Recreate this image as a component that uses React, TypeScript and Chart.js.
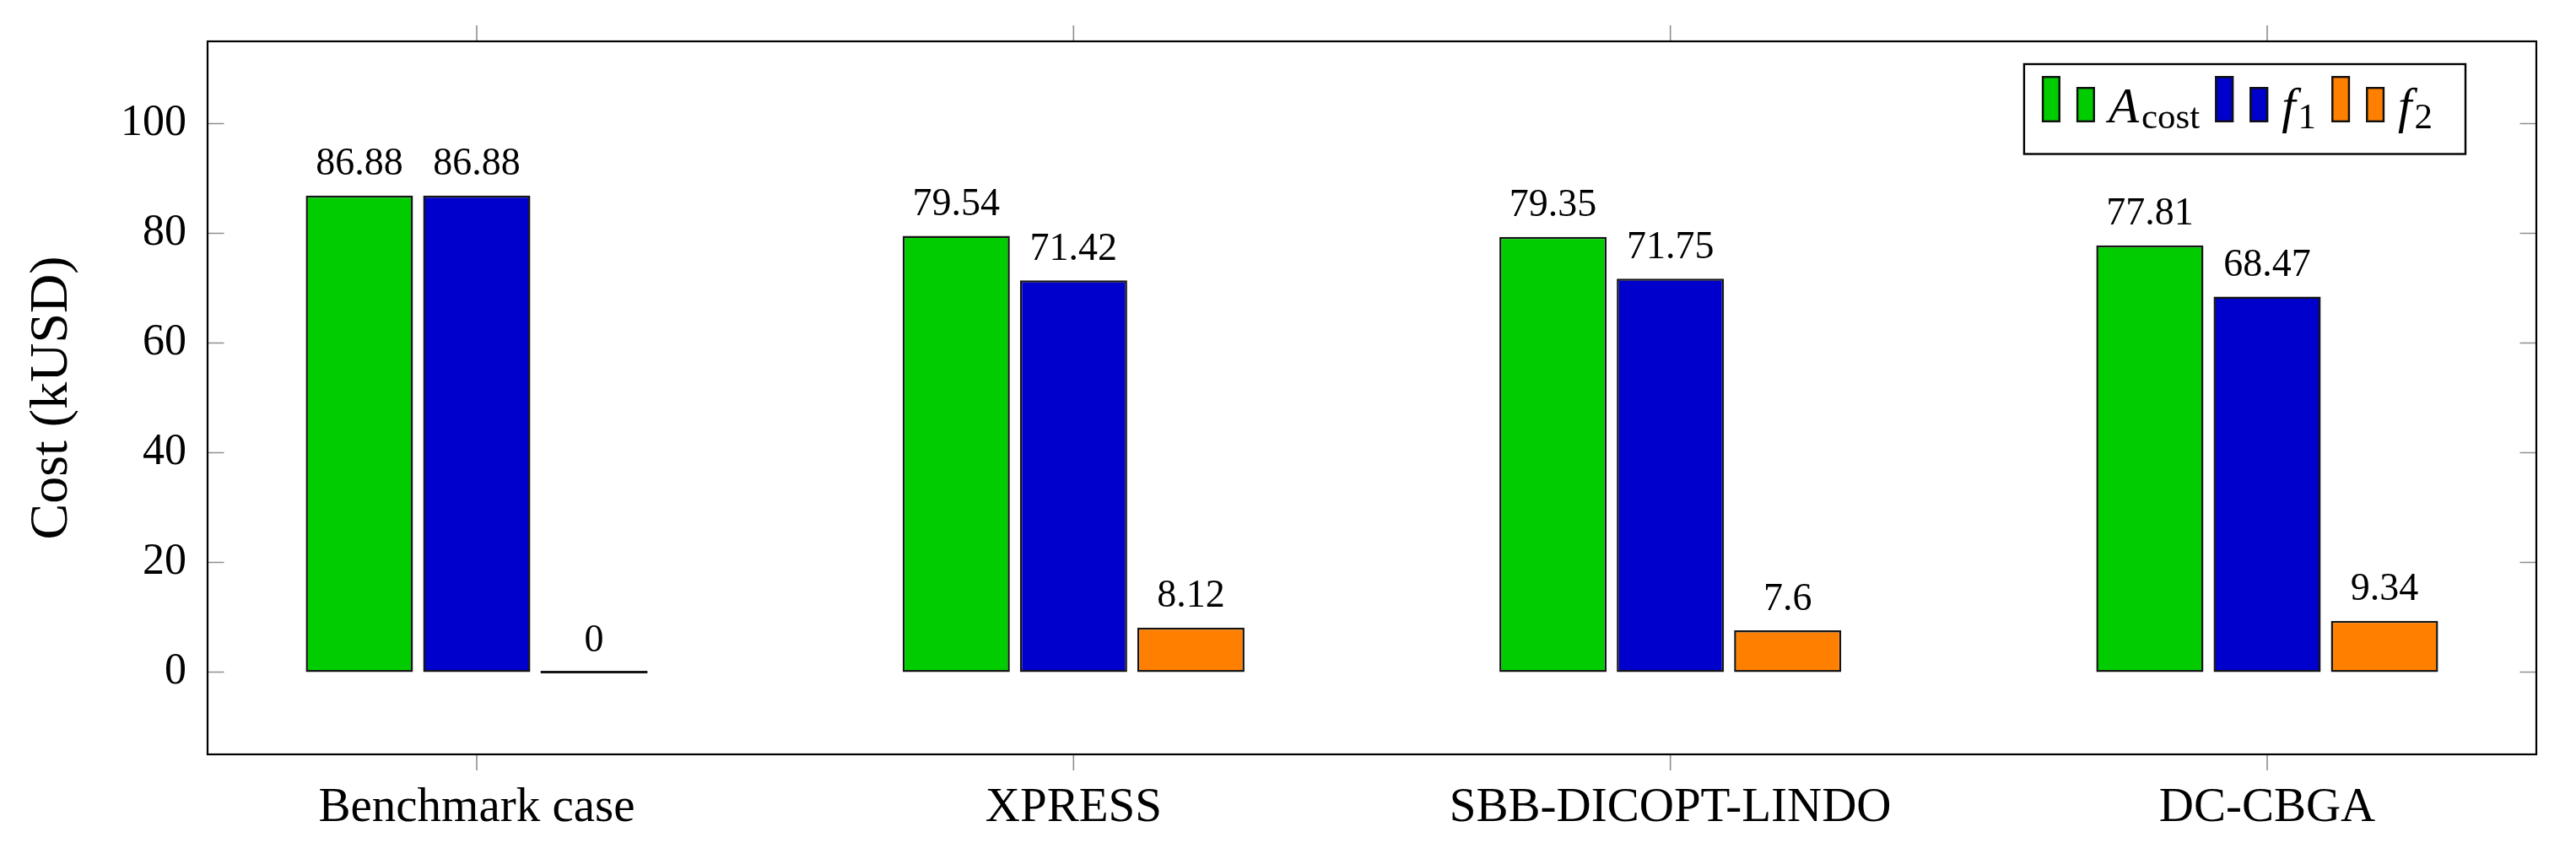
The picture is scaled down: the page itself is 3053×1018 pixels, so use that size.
import React, { useEffect, useRef } from 'react';
import { Chart, registerables } from 'chart.js';

Chart.register(...registerables);

const categories = ['Benchmark case', 'XPRESS', 'SBB-DICOPT-LINDO', 'DC-CBGA'];
const aCost = [86.88, 79.54, 79.35, 77.81];
const f1 = [86.88, 71.42, 71.75, 68.47];
const f2 = [0, 8.12, 7.6, 9.34];
const yTicks = [0, 20, 40, 60, 80, 100];
const yMin = -15;
const yMax = 115;
const xMin = -0.451;
const xMax = 3.451;
const legendMain = ['A', 'f', 'f'];
const legendSub = ['cost', '1', '2'];
const colors = ['#00CC00', '#0000CC', '#FF8000'];

const FAMILY = '"Liberation Serif", "Times New Roman", serif';

const framePlugin = {
  id: 'pgfFrame',
  afterDraw(chart: any) {
    const { ctx, chartArea: a, scales } = chart;
    ctx.save();
    ctx.strokeStyle = '#8f8f8f';
    ctx.lineWidth = 1.6;
    ctx.beginPath();
    for (const v of yTicks) {
      const y = scales.y.getPixelForValue(v);
      ctx.moveTo(a.left, y);
      ctx.lineTo(a.left + 19.5, y);
      ctx.moveTo(a.right, y);
      ctx.lineTo(a.right - 19.5, y);
    }
    categories.forEach((_, i) => {
      const x = scales.x.getPixelForValue(i);
      ctx.moveTo(x, a.top);
      ctx.lineTo(x, a.top - 19);
      ctx.moveTo(x, a.bottom);
      ctx.lineTo(x, a.bottom + 19);
    });
    ctx.stroke();
    ctx.strokeStyle = '#000';
    ctx.lineWidth = 2.2;
    ctx.strokeRect(a.left, a.top, a.right - a.left, a.bottom - a.top);
    ctx.restore();
  },
};

const valueLabelPlugin = {
  id: 'valueLabels',
  afterDatasetsDraw(chart: any) {
    const { ctx, scales } = chart;
    ctx.save();
    ctx.font = `46px ${FAMILY}`;
    ctx.fillStyle = '#000';
    ctx.textAlign = 'center';
    ctx.textBaseline = 'alphabetic';
    chart.data.datasets.forEach((ds: any, di: number) => {
      const meta = chart.getDatasetMeta(di);
      meta.data.forEach((el: any, i: number) => {
        const v = ds.data[i].y;
        const y = scales.y.getPixelForValue(v) - 24.5;
        ctx.fillText(String(v), el.x, y);
      });
    });
    ctx.restore();
  },
};

const legendPlugin = {
  id: 'texLegend',
  afterDraw(chart: any) {
    const { ctx, chartArea: a } = chart;
    const mainFont = `italic 59px ${FAMILY}`;
    const subFont = `43px ${FAMILY}`;
    ctx.save();
    const widths = legendMain.map((m, i) => {
      ctx.font = mainFont;
      const mw = ctx.measureText(m).width;
      ctx.font = subFont;
      const sw = ctx.measureText(legendSub[i]).width;
      return { mw, sw };
    });
    const subGap = 3;
    const entryW = widths.map((w) => 79 + w.mw + subGap + w.sw);
    const total = 21 + entryW.reduce((p, c) => p + c, 0) + 18 * (entryW.length - 1) + 39;
    const right = a.right - 84;
    const left = right - total;
    const top = a.top + 27;
    const h = 106.5;
    ctx.fillStyle = '#fff';
    ctx.fillRect(left, top, total, h);
    ctx.strokeStyle = '#000';
    ctx.lineWidth = 2.4;
    ctx.strokeRect(left, top, total, h);
    let x = left + 21;
    legendMain.forEach((m, i) => {
      const lw = 2.4;
      const drawBar = (bx: number, by: number, bw: number, bh: number) => {
        ctx.fillStyle = colors[i];
        ctx.fillRect(bx, by, bw, bh);
        ctx.strokeStyle = '#111';
        ctx.lineWidth = lw;
        ctx.strokeRect(bx + lw / 2, by + lw / 2, bw - lw, bh - lw);
      };
      drawBar(x, top + 14, 22, 55);
      drawBar(x + 41, top + 27, 22, 42);
      ctx.fillStyle = '#000';
      ctx.textAlign = 'left';
      ctx.textBaseline = 'alphabetic';
      ctx.font = mainFont;
      const tx = x + 79;
      ctx.fillText(m, tx, top + 69);
      ctx.font = subFont;
      ctx.fillText(legendSub[i], tx + widths[i].mw + subGap, top + 76);
      x = tx + widths[i].mw + subGap + widths[i].sw + 18;
    });
    ctx.restore();
  },
};

export default function App() {
  const ref = useRef<HTMLCanvasElement>(null);
  useEffect(() => {
    const series = [aCost, f1, f2];
    const chart = new Chart(ref.current as HTMLCanvasElement, {
      type: 'bar',
      data: {
        datasets: series.map((vals, si) => ({
          label: legendMain[si] + legendSub[si],
          data: categories.map((_, i) => ({ x: i, y: vals[i] })),
          backgroundColor: colors[si],
          borderColor: '#151515',
          borderWidth: 2.5,
          borderSkipped: false,
          minBarLength: si === 2 ? 3 : 0,
          categoryPercentage: 0.5898,
          barPercentage: 0.9137,
        })),
      } as any,
      options: {
        responsive: false,
        animation: false,
        devicePixelRatio: 1,
        layout: { padding: { top: 49, right: 47, left: 0, bottom: 0 } },
        plugins: {
          legend: { display: false },
          tooltip: { enabled: false },
        },
        scales: {
          x: {
            type: 'linear',
            min: xMin,
            max: xMax,
            bounds: 'data',
            offset: false,
            grid: { display: false, drawTicks: false, offset: false },
            border: { display: false },
            ticks: {
              autoSkip: false,
              maxRotation: 0,
              minRotation: 0,
              padding: 30,
              color: '#000',
              font: { size: 57, family: FAMILY },
              callback: (v: any) => categories[Math.round(Number(v))] ?? '',
            },
            afterBuildTicks: (s: any) => {
              s.ticks = categories.map((_, i) => ({ value: i }));
            },
            afterFit: (s: any) => {
              s.height = 124;
            },
          },
          y: {
            type: 'linear',
            min: yMin,
            max: yMax,
            bounds: 'data',
            grid: { display: false, drawTicks: false },
            border: { display: false },
            ticks: {
              padding: 25,
              color: '#000',
              font: { size: 52, family: FAMILY, lineHeight: 0.4 },
            },
            afterBuildTicks: (s: any) => {
              s.ticks = yTicks.map((v) => ({ value: v }));
            },
            afterFit: (s: any) => {
              s.width = 246;
            },
            title: {
              display: true,
              text: 'Cost (kUSD)',
              color: '#000',
              font: { size: 64, family: FAMILY },
              padding: { top: 24, bottom: 0 },
            },
          },
        },
      } as any,
      plugins: [framePlugin, valueLabelPlugin, legendPlugin],
    });
    return () => chart.destroy();
  }, []);
  return (
    <div style={{ position: 'absolute', left: 0, top: 0, width: 3053, height: 1018, background: '#fff' }}>
      <canvas ref={ref} width={3053} height={1018} style={{ width: 3053, height: 1018, display: 'block' }} />
    </div>
  );
}
